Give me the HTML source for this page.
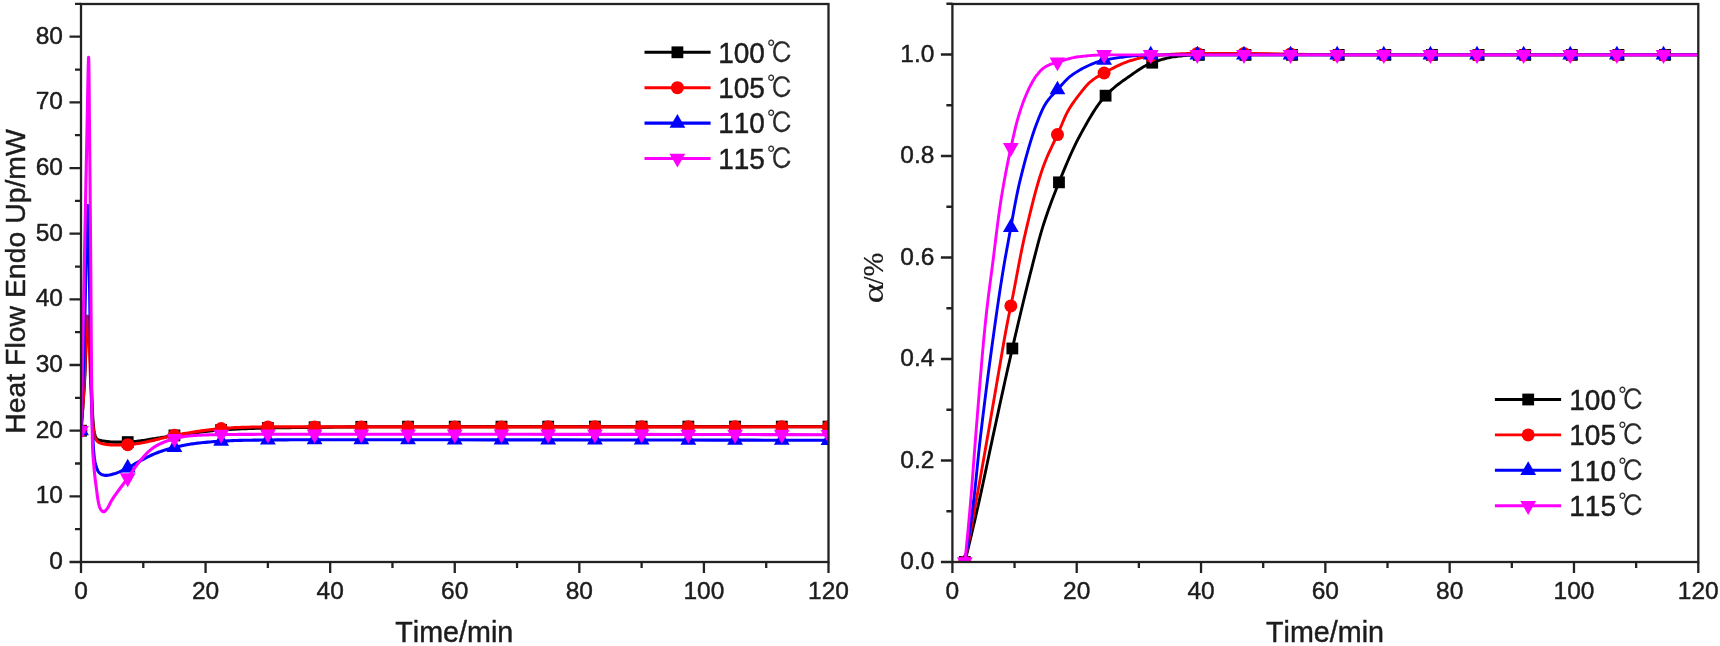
<!DOCTYPE html>
<html lang="en">
<head>
<meta charset="utf-8">
<title>Heat flow and conversion curves</title>
<style>
html,body{margin:0;padding:0;background:#fff;}
body{width:1720px;height:646px;overflow:hidden;}
svg{display:block;filter:blur(0.35px);}
text{white-space:pre;font-kerning:none;stroke:#1c1c1c;stroke-width:0.45px;stroke-linejoin:round;}
</style>
</head>
<body>
<svg width="1720" height="646" viewBox="0 0 1720 646">
<rect width="1720" height="646" fill="#ffffff"/>
<clipPath id="cl"><rect x="81.0" y="4.0" width="747.5" height="558.0"/></clipPath>
<g clip-path="url(#cl)">
<path d="M81 430.7L81.41 425.63L81.82 420.57L82.21 415.5L82.59 410.43L82.96 405.36L83.32 400.29L83.66 395.22L83.99 390.15L84.3 385.07L84.6 380L84.86 375L85.08 370L85.28 364.99L85.46 359.98L85.65 354.97L85.84 349.96L86.06 344.96L86.32 339.97L86.63 334.98L87 330L87.07 329.24L87.15 328.37L87.25 327.46L87.35 326.52L87.47 325.62L87.58 324.79L87.7 324.07L87.81 323.5L87.91 323.13L88 323L88.14 323.23L88.28 323.86L88.42 324.83L88.55 326.07L88.68 327.5L88.8 329.05L88.92 330.64L89.02 332.21L89.12 333.69L89.2 335L89.53 340.49L89.81 345.98L90.06 351.48L90.28 356.98L90.47 362.48L90.66 367.99L90.85 373.49L91.05 379L91.26 384.5L91.5 390L91.66 393.5L91.8 397.01L91.94 400.52L92.08 404.02L92.23 407.53L92.39 411.04L92.57 414.54L92.78 418.03L93.02 421.52L93.3 425L93.4 426.06L93.5 427.14L93.62 428.22L93.76 429.3L93.91 430.38L94.08 431.45L94.27 432.5L94.49 433.53L94.73 434.53L95 435.5L95.14 435.92L95.32 436.36L95.52 436.81L95.76 437.25L96.01 437.68L96.29 438.09L96.58 438.47L96.88 438.8L97.19 439.08L97.5 439.3L98.11 439.61L98.79 439.89L99.55 440.14L100.35 440.37L101.19 440.57L102.06 440.75L102.94 440.91L103.81 441.05L104.67 441.18L105.5 441.3L106.34 441.42L107.19 441.53L108.03 441.64L108.88 441.75L109.73 441.84L110.59 441.93L111.44 442L112.29 442.05L113.15 442.09L114 442.1L115.37 442.1L116.74 442.1L118.11 442.1L119.48 442.1L120.85 442.1L122.22 442.1L123.59 442.1L124.96 442.1L126.33 442.1L127.7 442.1L128.89 442.08L130.08 442.03L131.28 441.95L132.47 441.84L133.66 441.72L134.85 441.58L136.04 441.44L137.23 441.29L138.41 441.14L139.6 441L140.96 440.83L142.33 440.65L143.69 440.45L145.05 440.24L146.41 440.02L147.77 439.8L149.12 439.57L150.48 439.34L151.84 439.12L153.2 438.9L154.39 438.71L155.58 438.52L156.77 438.34L157.96 438.15L159.15 437.96L160.34 437.77L161.53 437.58L162.72 437.38L163.91 437.19L165.1 437L165.95 436.86L166.8 436.72L167.65 436.57L168.5 436.43L169.35 436.29L170.2 436.14L171.05 436L171.9 435.86L172.75 435.73L173.6 435.6L174.79 435.43L175.98 435.26L177.17 435.09L178.36 434.93L179.55 434.77L180.74 434.62L181.93 434.46L183.12 434.31L184.31 434.15L185.5 434L186.86 433.82L188.22 433.65L189.58 433.47L190.94 433.3L192.3 433.13L193.66 432.96L195.02 432.79L196.38 432.62L197.74 432.46L199.1 432.3L201.28 432.05L203.46 431.79L205.63 431.54L207.81 431.28L209.99 431.04L212.17 430.8L214.35 430.58L216.53 430.36L218.72 430.17L220.9 430L223.21 429.83L225.51 429.68L227.82 429.53L230.13 429.38L232.44 429.25L234.75 429.12L237.07 429.01L239.38 428.9L241.69 428.79L244 428.7L246.35 428.61L248.7 428.53L251.05 428.45L253.4 428.37L255.75 428.3L258.1 428.23L260.45 428.17L262.8 428.11L265.15 428.05L267.5 428L269.75 427.95L272 427.9L274.25 427.86L276.5 427.82L278.75 427.78L281 427.74L283.25 427.7L285.5 427.67L287.75 427.63L290 427.6L292.4 427.57L294.8 427.53L297.2 427.5L299.6 427.47L302 427.44L304.4 427.41L306.8 427.38L309.2 427.36L311.6 427.33L314 427.3L316.6 427.27L319.2 427.24L321.8 427.2L324.4 427.17L327 427.14L329.6 427.11L332.2 427.08L334.8 427.05L337.4 427.03L340 427L344 426.96L348 426.92L352 426.88L356 426.84L360 426.81L364 426.77L368 426.74L372 426.72L376 426.71L380 426.7L424.85 426.68L469.7 426.66L514.55 426.64L559.4 426.63L604.25 426.62L649.1 426.61L693.95 426.61L738.8 426.6L783.65 426.6L828.5 426.6" fill="none" stroke="#000000" stroke-width="3.1" stroke-linejoin="round" stroke-linecap="butt"/>
<rect x="75.1" y="424.8" width="11.8" height="11.8" fill="#000000"/>
<rect x="121.82" y="436.2" width="11.8" height="11.8" fill="#000000"/>
<rect x="168.54" y="429.53" width="11.8" height="11.8" fill="#000000"/>
<rect x="215.26" y="424.1" width="11.8" height="11.8" fill="#000000"/>
<rect x="261.98" y="422.1" width="11.8" height="11.8" fill="#000000"/>
<rect x="308.69" y="421.4" width="11.8" height="11.8" fill="#000000"/>
<rect x="355.41" y="420.91" width="11.8" height="11.8" fill="#000000"/>
<rect x="402.13" y="420.78" width="11.8" height="11.8" fill="#000000"/>
<rect x="448.85" y="420.76" width="11.8" height="11.8" fill="#000000"/>
<rect x="495.57" y="420.74" width="11.8" height="11.8" fill="#000000"/>
<rect x="542.29" y="420.73" width="11.8" height="11.8" fill="#000000"/>
<rect x="589.01" y="420.72" width="11.8" height="11.8" fill="#000000"/>
<rect x="635.73" y="420.71" width="11.8" height="11.8" fill="#000000"/>
<rect x="682.44" y="420.71" width="11.8" height="11.8" fill="#000000"/>
<rect x="729.16" y="420.7" width="11.8" height="11.8" fill="#000000"/>
<rect x="775.88" y="420.7" width="11.8" height="11.8" fill="#000000"/>
<rect x="822.6" y="420.7" width="11.8" height="11.8" fill="#000000"/>
<path d="M81 430.7L81.4 425.63L81.79 420.57L82.17 415.5L82.54 410.43L82.89 405.36L83.23 400.29L83.55 395.22L83.85 390.15L84.13 385.07L84.4 380L84.65 374.5L84.87 369L85.06 363.5L85.24 357.99L85.41 352.49L85.59 346.98L85.78 341.48L86.01 335.98L86.28 330.49L86.6 325L86.66 324.02L86.74 322.91L86.82 321.73L86.92 320.53L87.01 319.37L87.11 318.3L87.21 317.38L87.31 316.65L87.41 316.17L87.5 316L87.62 316.23L87.74 316.86L87.86 317.83L87.98 319.07L88.1 320.5L88.22 322.05L88.33 323.64L88.43 325.21L88.52 326.69L88.6 328L88.94 334.19L89.23 340.38L89.48 346.58L89.7 352.78L89.9 358.99L90.1 365.19L90.29 371.4L90.5 377.6L90.73 383.8L91 390L91.16 393.6L91.32 397.21L91.47 400.82L91.63 404.43L91.79 408.04L91.98 411.64L92.19 415.24L92.42 418.84L92.69 422.42L93 426L93.11 427.17L93.24 428.35L93.38 429.55L93.54 430.74L93.72 431.93L93.92 433.1L94.15 434.25L94.4 435.38L94.68 436.46L95 437.5L95.2 438.04L95.46 438.59L95.77 439.15L96.12 439.7L96.5 440.24L96.92 440.75L97.35 441.22L97.79 441.64L98.25 442.01L98.7 442.3L99.25 442.59L99.86 442.86L100.51 443.11L101.19 443.35L101.89 443.56L102.61 443.75L103.34 443.92L104.07 444.07L104.8 444.2L105.5 444.3L106.34 444.41L107.18 444.51L108.02 444.61L108.87 444.71L109.73 444.79L110.58 444.86L111.44 444.92L112.29 444.96L113.15 444.99L114 445L115.37 445L116.74 444.99L118.11 444.97L119.48 444.94L120.85 444.91L122.23 444.88L123.6 444.84L124.97 444.8L126.33 444.75L127.7 444.7L128.89 444.64L130.09 444.54L131.28 444.43L132.47 444.28L133.66 444.12L134.86 443.95L136.04 443.77L137.23 443.58L138.42 443.39L139.6 443.2L140.97 442.98L142.33 442.73L143.7 442.48L145.06 442.2L146.42 441.92L147.78 441.62L149.14 441.32L150.49 441.02L151.85 440.71L153.2 440.4L154.39 440.12L155.59 439.83L156.78 439.53L157.96 439.22L159.15 438.9L160.34 438.59L161.53 438.28L162.71 437.98L163.91 437.68L165.1 437.4L165.95 437.21L166.79 437.02L167.64 436.83L168.49 436.65L169.34 436.47L170.19 436.29L171.04 436.11L171.9 435.94L172.75 435.77L173.6 435.6L174.79 435.37L175.98 435.14L177.16 434.91L178.35 434.68L179.54 434.46L180.73 434.25L181.92 434.03L183.12 433.82L184.31 433.61L185.5 433.4L186.86 433.17L188.22 432.93L189.57 432.7L190.93 432.47L192.29 432.24L193.65 432.02L195.01 431.81L196.37 431.6L197.74 431.39L199.1 431.2L201.27 430.9L203.45 430.6L205.63 430.3L207.8 430.01L209.98 429.73L212.16 429.47L214.35 429.22L216.53 428.99L218.71 428.78L220.9 428.6L223.2 428.43L225.51 428.26L227.82 428.1L230.13 427.95L232.44 427.8L234.75 427.67L237.06 427.56L239.38 427.46L241.69 427.37L244 427.3L246.35 427.24L248.7 427.18L251.05 427.12L253.4 427.07L255.75 427.02L258.1 426.98L260.45 426.95L262.8 426.92L265.15 426.91L267.5 426.9L272.15 426.9L276.8 426.9L281.45 426.9L286.1 426.9L290.75 426.9L295.4 426.9L300.05 426.9L304.7 426.9L309.35 426.9L314 426.9L365.45 426.9L416.9 426.9L468.35 426.89L519.8 426.88L571.25 426.87L622.7 426.86L674.15 426.85L725.6 426.83L777.05 426.82L828.5 426.8" fill="none" stroke="#ff0000" stroke-width="3.1" stroke-linejoin="round" stroke-linecap="butt"/>
<circle cx="81" cy="430.7" r="6.5" fill="#ff0000"/>
<circle cx="127.72" cy="444.7" r="6.5" fill="#ff0000"/>
<circle cx="174.44" cy="435.37" r="6.5" fill="#ff0000"/>
<circle cx="221.16" cy="428.6" r="6.5" fill="#ff0000"/>
<circle cx="267.88" cy="426.9" r="6.5" fill="#ff0000"/>
<circle cx="314.59" cy="426.9" r="6.5" fill="#ff0000"/>
<circle cx="361.31" cy="426.9" r="6.5" fill="#ff0000"/>
<circle cx="408.03" cy="426.9" r="6.5" fill="#ff0000"/>
<circle cx="454.75" cy="426.89" r="6.5" fill="#ff0000"/>
<circle cx="501.47" cy="426.88" r="6.5" fill="#ff0000"/>
<circle cx="548.19" cy="426.87" r="6.5" fill="#ff0000"/>
<circle cx="594.91" cy="426.87" r="6.5" fill="#ff0000"/>
<circle cx="641.62" cy="426.86" r="6.5" fill="#ff0000"/>
<circle cx="688.34" cy="426.85" r="6.5" fill="#ff0000"/>
<circle cx="735.06" cy="426.83" r="6.5" fill="#ff0000"/>
<circle cx="781.78" cy="426.82" r="6.5" fill="#ff0000"/>
<circle cx="828.5" cy="426.8" r="6.5" fill="#ff0000"/>
<path d="M81 430.7L81.34 422.63L81.68 414.56L82.01 406.49L82.33 398.42L82.64 390.35L82.94 382.28L83.22 374.21L83.5 366.14L83.76 358.07L84 350L84.28 340L84.54 330L84.78 320L85 310L85.22 300L85.44 290L85.66 280L85.89 270L86.13 260L86.4 250L86.53 245.16L86.66 239.7L86.81 233.88L86.95 227.98L87.1 222.25L87.25 216.97L87.39 212.39L87.54 208.8L87.67 206.44L87.8 205.6L87.92 206.44L88.04 208.8L88.16 212.39L88.28 216.97L88.39 222.25L88.5 227.98L88.61 233.88L88.71 239.7L88.81 245.16L88.9 250L89.1 260L89.28 270L89.45 280L89.61 290L89.76 300L89.92 310L90.07 320L90.24 330L90.41 340L90.6 350L90.74 357L90.87 364L91 371L91.14 378L91.28 385.01L91.44 392.01L91.6 399.01L91.78 406.01L91.98 413L92.2 420L92.32 423.51L92.43 427.02L92.56 430.54L92.69 434.05L92.84 437.57L93.02 441.08L93.21 444.58L93.44 448.07L93.7 451.54L94 455L94.17 456.59L94.38 458.22L94.63 459.86L94.93 461.51L95.27 463.14L95.66 464.74L96.1 466.3L96.58 467.78L97.12 469.19L97.7 470.5L97.96 470.98L98.28 471.47L98.65 471.96L99.06 472.45L99.51 472.92L99.98 473.35L100.48 473.75L100.99 474.1L101.5 474.39L102 474.6L102.35 474.72L102.73 474.84L103.12 474.95L103.52 475.06L103.93 475.15L104.35 475.23L104.76 475.3L105.18 475.36L105.59 475.39L106 475.4L106.8 475.37L107.61 475.3L108.41 475.18L109.22 475.04L110.03 474.86L110.83 474.66L111.63 474.45L112.43 474.23L113.22 474.01L114 473.8L115.41 473.39L116.81 472.91L118.21 472.38L119.59 471.81L120.96 471.19L122.32 470.56L123.67 469.9L125.02 469.23L126.36 468.56L127.7 467.9L128.91 467.28L130.11 466.64L131.31 465.98L132.49 465.29L133.67 464.6L134.85 463.9L136.03 463.21L137.21 462.52L138.4 461.85L139.6 461.2L140.94 460.49L142.29 459.77L143.63 459.06L144.98 458.35L146.34 457.65L147.69 456.96L149.06 456.29L150.43 455.64L151.81 455.01L153.2 454.4L154.37 453.91L155.54 453.43L156.72 452.97L157.9 452.51L159.1 452.06L160.29 451.63L161.49 451.2L162.69 450.79L163.89 450.39L165.1 450L165.94 449.74L166.78 449.48L167.63 449.22L168.48 448.97L169.33 448.73L170.18 448.49L171.03 448.26L171.89 448.04L172.74 447.82L173.6 447.6L174.78 447.31L175.97 447.02L177.15 446.74L178.34 446.47L179.53 446.2L180.72 445.94L181.91 445.69L183.11 445.45L184.3 445.22L185.5 445L186.85 444.76L188.21 444.53L189.56 444.31L190.92 444.09L192.28 443.89L193.64 443.69L195.01 443.5L196.37 443.32L197.74 443.15L199.1 443L201.27 442.77L203.45 442.55L205.63 442.34L207.8 442.14L209.99 441.95L212.17 441.78L214.35 441.61L216.53 441.46L218.72 441.32L220.9 441.2L223.21 441.08L225.52 440.96L227.82 440.85L230.13 440.75L232.45 440.65L234.76 440.56L237.07 440.48L239.38 440.41L241.69 440.35L244 440.3L246.35 440.26L248.7 440.22L251.05 440.18L253.4 440.15L255.75 440.12L258.1 440.09L260.45 440.07L262.8 440.04L265.15 440.02L267.5 440L272.15 439.96L276.8 439.92L281.45 439.87L286.1 439.83L290.75 439.8L295.4 439.77L300.05 439.74L304.7 439.72L309.35 439.7L314 439.7L327.6 439.7L341.2 439.71L354.8 439.71L368.4 439.72L382 439.73L395.6 439.75L409.2 439.76L422.8 439.77L436.4 439.79L450 439.8L487.85 439.84L525.7 439.87L563.55 439.92L601.4 439.96L639.25 440.01L677.1 440.06L714.95 440.12L752.8 440.17L790.65 440.24L828.5 440.3" fill="none" stroke="#0000ff" stroke-width="3.1" stroke-linejoin="round" stroke-linecap="butt"/>
<path d="M73.1 435.3L88.9 435.3L81 421.6Z" fill="#0000ff"/>
<path d="M119.82 472.5L135.62 472.5L127.72 458.8Z" fill="#0000ff"/>
<path d="M166.54 451.91L182.34 451.91L174.44 438.21Z" fill="#0000ff"/>
<path d="M213.26 445.8L229.06 445.8L221.16 432.1Z" fill="#0000ff"/>
<path d="M259.98 444.6L275.77 444.6L267.88 430.9Z" fill="#0000ff"/>
<path d="M306.69 444.3L322.49 444.3L314.59 430.6Z" fill="#0000ff"/>
<path d="M353.41 444.31L369.21 444.31L361.31 430.61Z" fill="#0000ff"/>
<path d="M400.13 444.36L415.93 444.36L408.03 430.66Z" fill="#0000ff"/>
<path d="M446.85 444.4L462.65 444.4L454.75 430.7Z" fill="#0000ff"/>
<path d="M493.57 444.44L509.37 444.44L501.47 430.74Z" fill="#0000ff"/>
<path d="M540.29 444.52L556.09 444.52L548.19 430.82Z" fill="#0000ff"/>
<path d="M587.01 444.56L602.81 444.56L594.91 430.86Z" fill="#0000ff"/>
<path d="M633.73 444.61L649.52 444.61L641.62 430.91Z" fill="#0000ff"/>
<path d="M680.44 444.66L696.24 444.66L688.34 430.96Z" fill="#0000ff"/>
<path d="M727.16 444.77L742.96 444.77L735.06 431.07Z" fill="#0000ff"/>
<path d="M773.88 444.84L789.68 444.84L781.78 431.14Z" fill="#0000ff"/>
<path d="M820.6 444.9L836.4 444.9L828.5 431.2Z" fill="#0000ff"/>
<path d="M81 430.7L81.13 424.63L81.27 418.56L81.4 412.49L81.53 406.42L81.66 400.35L81.79 394.28L81.92 388.21L82.05 382.14L82.18 376.07L82.3 370L82.52 359L82.74 348L82.95 337L83.15 326L83.36 315L83.57 304L83.77 293L83.98 282L84.19 271L84.4 260L84.65 247L84.91 234L85.16 221L85.42 208L85.68 195L85.93 182L86.2 169L86.46 156L86.73 143L87 130L87.16 122.08L87.33 113.13L87.5 103.61L87.67 93.94L87.85 84.56L88.02 75.91L88.18 68.42L88.34 62.53L88.48 58.68L88.6 57.3L88.71 58.68L88.82 62.53L88.91 68.42L89.01 75.91L89.1 84.56L89.18 93.94L89.26 103.61L89.34 113.13L89.42 122.08L89.5 130L89.64 143L89.77 156L89.9 169L90.02 182L90.14 195L90.26 208L90.37 221L90.48 234L90.59 247L90.7 260L90.79 271L90.86 282L90.94 293L91.01 304L91.08 315L91.15 326L91.23 337L91.31 348L91.4 359L91.5 370L91.57 377.5L91.64 385L91.7 392.51L91.77 400.01L91.85 407.51L91.95 415.02L92.05 422.52L92.18 430.01L92.33 437.51L92.5 445L92.59 447.7L92.71 450.41L92.86 453.11L93.03 455.81L93.23 458.51L93.44 461.21L93.67 463.91L93.91 466.61L94.15 469.31L94.4 472L94.56 473.64L94.73 475.29L94.92 476.93L95.11 478.57L95.32 480.21L95.53 481.85L95.75 483.49L95.97 485.12L96.18 486.76L96.4 488.4L96.56 489.62L96.71 490.85L96.86 492.07L97.01 493.3L97.16 494.52L97.32 495.75L97.5 496.97L97.68 498.18L97.88 499.39L98.1 500.6L98.26 501.44L98.43 502.3L98.61 503.17L98.8 504.04L99.01 504.9L99.23 505.75L99.48 506.57L99.76 507.36L100.06 508.1L100.4 508.8L100.61 509.16L100.86 509.55L101.15 509.95L101.48 510.35L101.82 510.73L102.18 511.07L102.55 511.37L102.91 511.6L103.26 511.75L103.6 511.8L103.96 511.74L104.34 511.58L104.72 511.34L105.1 511.02L105.49 510.65L105.86 510.24L106.23 509.82L106.57 509.39L106.9 508.98L107.2 508.6L107.68 507.95L108.12 507.25L108.53 506.53L108.91 505.78L109.28 505.01L109.65 504.23L110.02 503.46L110.39 502.69L110.78 501.93L111.2 501.2L112.69 498.8L114.25 496.44L115.87 494.11L117.52 491.8L119.21 489.51L120.91 487.24L122.63 484.96L124.34 482.68L126.03 480.4L127.7 478.1L128.88 476.43L130.04 474.74L131.2 473.05L132.35 471.35L133.51 469.66L134.67 467.98L135.86 466.31L137.07 464.67L138.32 463.07L139.6 461.5L140.84 460.03L142.1 458.54L143.39 457.06L144.69 455.59L146.03 454.15L147.39 452.74L148.79 451.39L150.22 450.11L151.69 448.91L153.2 447.8L154.28 447.08L155.4 446.38L156.55 445.71L157.73 445.06L158.93 444.43L160.15 443.84L161.38 443.26L162.62 442.71L163.86 442.19L165.1 441.7L165.93 441.39L166.76 441.08L167.6 440.79L168.45 440.51L169.3 440.24L170.16 439.97L171.02 439.72L171.88 439.47L172.74 439.23L173.6 439L174.78 438.68L175.96 438.36L177.14 438.05L178.33 437.74L179.52 437.44L180.71 437.16L181.9 436.9L183.1 436.67L184.3 436.47L185.5 436.3L186.85 436.14L188.2 436L189.56 435.86L190.92 435.73L192.28 435.62L193.64 435.51L195.01 435.42L196.37 435.34L197.74 435.26L199.1 435.2L201.28 435.11L203.46 435.03L205.63 434.95L207.81 434.88L210 434.81L212.18 434.76L214.36 434.71L216.54 434.66L218.72 434.63L220.9 434.6L225.56 434.55L230.22 434.5L234.88 434.46L239.54 434.42L244.2 434.38L248.86 434.36L253.52 434.33L258.18 434.31L262.84 434.3L267.5 434.3L285.75 434.3L304 434.3L322.25 434.3L340.5 434.3L358.75 434.3L377 434.3L395.25 434.3L413.5 434.3L431.75 434.3L450 434.3L487.85 434.31L525.7 434.32L563.55 434.34L601.4 434.38L639.25 434.42L677.1 434.46L714.95 434.52L752.8 434.57L790.65 434.63L828.5 434.7" fill="none" stroke="#ff00ff" stroke-width="3.1" stroke-linejoin="round" stroke-linecap="butt"/>
<path d="M73.1 425.9L88.9 425.9L81 439.8Z" fill="#ff00ff"/>
<path d="M119.82 473.3L135.62 473.3L127.72 487.2Z" fill="#ff00ff"/>
<path d="M166.54 433.88L182.34 433.88L174.44 447.78Z" fill="#ff00ff"/>
<path d="M213.26 429.8L229.06 429.8L221.16 443.7Z" fill="#ff00ff"/>
<path d="M259.98 429.5L275.77 429.5L267.88 443.4Z" fill="#ff00ff"/>
<path d="M306.69 429.5L322.49 429.5L314.59 443.4Z" fill="#ff00ff"/>
<path d="M353.41 429.5L369.21 429.5L361.31 443.4Z" fill="#ff00ff"/>
<path d="M400.13 429.5L415.93 429.5L408.03 443.4Z" fill="#ff00ff"/>
<path d="M446.85 429.5L462.65 429.5L454.75 443.4Z" fill="#ff00ff"/>
<path d="M493.57 429.51L509.37 429.51L501.47 443.41Z" fill="#ff00ff"/>
<path d="M540.29 429.54L556.09 429.54L548.19 443.44Z" fill="#ff00ff"/>
<path d="M587.01 429.58L602.81 429.58L594.91 443.48Z" fill="#ff00ff"/>
<path d="M633.73 429.62L649.52 429.62L641.62 443.52Z" fill="#ff00ff"/>
<path d="M680.44 429.66L696.24 429.66L688.34 443.56Z" fill="#ff00ff"/>
<path d="M727.16 429.77L742.96 429.77L735.06 443.67Z" fill="#ff00ff"/>
<path d="M773.88 429.83L789.68 429.83L781.78 443.73Z" fill="#ff00ff"/>
<path d="M820.6 429.9L836.4 429.9L828.5 443.8Z" fill="#ff00ff"/>
</g>
<g stroke="#222" stroke-width="2.3" fill="none" stroke-linecap="butt">
<rect x="81.0" y="4.0" width="747.5" height="558"/>
<path d="M81 562.0v11M205.58 562.0v11M330.17 562.0v11M454.75 562.0v11M579.33 562.0v11M703.92 562.0v11M828.5 562.0v11M143.29 562.0v6M267.88 562.0v6M392.46 562.0v6M517.04 562.0v6M641.62 562.0v6M766.21 562.0v6M81.0 562h-11.5M81.0 496.34h-11.5M81.0 430.68h-11.5M81.0 365.02h-11.5M81.0 299.36h-11.5M81.0 233.7h-11.5M81.0 168.04h-11.5M81.0 102.38h-11.5M81.0 36.72h-11.5M81.0 529.17h-6M81.0 463.51h-6M81.0 397.85h-6M81.0 332.19h-6M81.0 266.53h-6M81.0 200.87h-6M81.0 135.21h-6M81.0 69.55h-6M81.0 3.89h-6"/>
</g>
<g font-family='"Liberation Sans", Arial, Helvetica, sans-serif' font-size="24.5" fill="#1c1c1c">
<text x="81" y="598.8" text-anchor="middle">0</text>
<text x="205.58" y="598.8" text-anchor="middle">20</text>
<text x="330.17" y="598.8" text-anchor="middle">40</text>
<text x="454.75" y="598.8" text-anchor="middle">60</text>
<text x="579.33" y="598.8" text-anchor="middle">80</text>
<text x="703.92" y="598.8" text-anchor="middle">100</text>
<text x="828.5" y="598.8" text-anchor="middle">120</text>
<text x="63" y="569.1" text-anchor="end">0</text>
<text x="63" y="503.44" text-anchor="end">10</text>
<text x="63" y="437.78" text-anchor="end">20</text>
<text x="63" y="372.12" text-anchor="end">30</text>
<text x="63" y="306.46" text-anchor="end">40</text>
<text x="63" y="240.8" text-anchor="end">50</text>
<text x="63" y="175.14" text-anchor="end">60</text>
<text x="63" y="109.48" text-anchor="end">70</text>
<text x="63" y="43.82" text-anchor="end">80</text>
</g>
<text x="454.3" y="641.9" text-anchor="middle" font-family='"Liberation Sans", Arial, Helvetica, sans-serif' font-size="28.7" fill="#1c1c1c">Time/min</text>
<text transform="translate(24.6 281.5) rotate(-90)" text-anchor="middle" font-family='"Liberation Sans", Arial, Helvetica, sans-serif' font-size="28.4" fill="#1c1c1c">Heat Flow Endo Up/mW</text>
<path d="M644.5 52.3H710.6" stroke="#000000" stroke-width="3.1"/>
<rect x="671.5" y="46.4" width="11.8" height="11.8" fill="#000000"/>
<text transform="translate(718.2 62.6) scale(1 1.07)" font-family='"Liberation Sans", Arial, Helvetica, sans-serif' font-size="28" fill="#1c1c1c">100<tspan font-family='"Liberation Sans", "IPAGothic", sans-serif' font-size="26.5" dx="1.9" fill="#2a2a2a" style="stroke-width:0.1px">℃</tspan></text>
<path d="M644.5 87.7H710.6" stroke="#ff0000" stroke-width="3.1"/>
<circle cx="677.4" cy="87.7" r="6.5" fill="#ff0000"/>
<text transform="translate(718.2 98) scale(1 1.07)" font-family='"Liberation Sans", Arial, Helvetica, sans-serif' font-size="28" fill="#1c1c1c">105<tspan font-family='"Liberation Sans", "IPAGothic", sans-serif' font-size="26.5" dx="1.9" fill="#2a2a2a" style="stroke-width:0.1px">℃</tspan></text>
<path d="M644.5 123.1H710.6" stroke="#0000ff" stroke-width="3.1"/>
<path d="M669.5 127.7L685.3 127.7L677.4 114Z" fill="#0000ff"/>
<text transform="translate(718.2 133.4) scale(1 1.07)" font-family='"Liberation Sans", Arial, Helvetica, sans-serif' font-size="28" fill="#1c1c1c">110<tspan font-family='"Liberation Sans", "IPAGothic", sans-serif' font-size="26.5" dx="1.9" fill="#2a2a2a" style="stroke-width:0.1px">℃</tspan></text>
<path d="M644.5 158.5H710.6" stroke="#ff00ff" stroke-width="3.1"/>
<path d="M669.5 153.7L685.3 153.7L677.4 167.6Z" fill="#ff00ff"/>
<text transform="translate(718.2 168.8) scale(1 1.07)" font-family='"Liberation Sans", Arial, Helvetica, sans-serif' font-size="28" fill="#1c1c1c">115<tspan font-family='"Liberation Sans", "IPAGothic", sans-serif' font-size="26.5" dx="1.9" fill="#2a2a2a" style="stroke-width:0.1px">℃</tspan></text>
<clipPath id="cr"><rect x="952.4" y="4.0" width="745.9" height="558.0"/></clipPath>
<g clip-path="url(#cr)">
<path d="M964.83 562L966.39 555.71L967.94 549.35L969.49 542.9L971.05 536.37L972.6 529.77L974.16 523.09L975.71 516.34L977.26 509.52L978.82 502.63L980.37 495.65L981.93 488.51L983.48 481.23L985.03 473.86L986.59 466.45L988.14 459.03L989.69 451.64L991.25 444.33L992.8 437.12L994.36 429.93L995.91 422.75L997.46 415.58L999.02 408.42L1000.57 401.28L1002.13 394.17L1003.68 387.09L1005.23 380.05L1006.79 373.05L1008.34 366.11L1009.9 359.22L1011.45 352.4L1013 345.65L1014.56 338.93L1016.11 332.25L1017.67 325.6L1019.22 319.01L1020.77 312.46L1022.33 305.97L1023.88 299.53L1025.44 293.16L1026.99 286.86L1028.54 280.63L1030.1 274.47L1031.65 268.34L1033.21 262.18L1034.76 256.06L1036.31 250.03L1037.87 244.12L1039.42 238.4L1040.98 232.91L1042.53 227.7L1044.08 222.78L1045.64 218.04L1047.19 213.45L1048.75 209.02L1050.3 204.71L1051.85 200.51L1053.41 196.42L1054.96 192.41L1056.52 188.47L1058.07 184.58L1059.62 180.72L1061.18 176.9L1062.73 173.11L1064.28 169.36L1065.84 165.66L1067.39 162.02L1068.95 158.44L1070.5 154.93L1072.05 151.5L1073.61 148.14L1075.16 144.88L1076.72 141.72L1078.27 138.66L1079.82 135.71L1081.38 132.85L1082.93 130.02L1084.49 127.21L1086.04 124.44L1087.59 121.72L1089.15 119.04L1090.7 116.42L1092.26 113.87L1093.81 111.39L1095.36 108.99L1096.92 106.68L1098.47 104.46L1100.03 102.34L1101.58 100.32L1103.13 98.43L1104.69 96.65L1106.24 94.99L1107.8 93.41L1109.35 91.9L1110.9 90.45L1112.46 89.06L1114.01 87.73L1115.57 86.44L1117.12 85.2L1118.67 83.99L1120.23 82.82L1121.78 81.67L1123.34 80.55L1124.89 79.45L1126.44 78.36L1128 77.28L1129.55 76.2L1131.11 75.11L1132.66 74.02L1134.21 72.93L1135.77 71.85L1137.32 70.78L1138.88 69.73L1140.43 68.72L1141.98 67.73L1143.54 66.8L1145.09 65.91L1146.64 65.08L1148.2 64.32L1149.75 63.63L1151.31 63.01L1152.86 62.45L1154.41 61.9L1155.97 61.37L1157.52 60.85L1159.08 60.36L1160.63 59.88L1162.18 59.42L1163.74 58.99L1165.29 58.58L1166.85 58.19L1168.4 57.83L1169.95 57.5L1171.51 57.2L1173.06 56.93L1174.62 56.7L1176.17 56.49L1177.72 56.32L1179.28 56.15L1180.83 55.98L1182.39 55.82L1183.94 55.67L1185.49 55.53L1187.05 55.39L1188.6 55.27L1190.16 55.17L1191.71 55.07L1193.26 55L1194.82 54.95L1196.37 54.91L1197.93 54.9L1199.48 54.9L1201.03 54.9L1202.59 54.9L1204.14 54.9L1205.7 54.9L1207.25 54.9L1208.8 54.9L1210.36 54.9L1211.91 54.9L1213.46 54.9L1215.02 54.9L1216.57 54.9L1218.13 54.9L1219.68 54.9L1221.23 54.9L1222.79 54.9L1224.34 54.9L1225.9 54.9L1227.45 54.9L1229 54.9L1230.56 54.9L1232.11 54.9L1233.67 54.9L1235.22 54.9L1236.77 54.9L1238.33 54.9L1239.88 54.9L1241.44 54.9L1242.99 54.9L1244.54 54.9L1246.1 54.9L1247.65 54.9L1249.21 54.9L1250.76 54.9L1337.78 54.9L1698.3 54.9" fill="none" stroke="#000000" stroke-width="2.9" stroke-linejoin="round" stroke-linecap="butt"/>
<rect x="958.93" y="556.1" width="11.8" height="11.8" fill="#000000"/>
<rect x="1006.45" y="342.58" width="11.8" height="11.8" fill="#000000"/>
<rect x="1053.07" y="176.44" width="11.8" height="11.8" fill="#000000"/>
<rect x="1099.69" y="89.78" width="11.8" height="11.8" fill="#000000"/>
<rect x="1146.31" y="56.79" width="11.8" height="11.8" fill="#000000"/>
<rect x="1192.93" y="49" width="11.8" height="11.8" fill="#000000"/>
<rect x="1239.54" y="49" width="11.8" height="11.8" fill="#000000"/>
<rect x="1286.16" y="49" width="11.8" height="11.8" fill="#000000"/>
<rect x="1332.78" y="49" width="11.8" height="11.8" fill="#000000"/>
<rect x="1379.4" y="49" width="11.8" height="11.8" fill="#000000"/>
<rect x="1426.02" y="49" width="11.8" height="11.8" fill="#000000"/>
<rect x="1472.64" y="49" width="11.8" height="11.8" fill="#000000"/>
<rect x="1519.26" y="49" width="11.8" height="11.8" fill="#000000"/>
<rect x="1565.88" y="49" width="11.8" height="11.8" fill="#000000"/>
<rect x="1612.49" y="49" width="11.8" height="11.8" fill="#000000"/>
<rect x="1659.11" y="49" width="11.8" height="11.8" fill="#000000"/>
<path d="M964.83 562L966.39 553.82L967.94 545.58L969.49 537.28L971.05 528.93L972.6 520.53L974.16 512.07L975.71 503.55L977.26 494.98L978.82 486.34L980.37 477.63L981.93 468.87L983.48 460.06L985.03 451.21L986.59 442.34L988.14 433.42L989.69 424.42L991.25 415.37L992.8 406.29L994.36 397.21L995.91 388.17L997.46 379.2L999.02 370.23L1000.57 361.17L1002.13 352.09L1003.68 343.11L1005.23 334.34L1006.79 325.87L1008.34 317.82L1009.9 310.4L1011.45 303.02L1013 295.23L1014.56 287.16L1016.11 278.94L1017.67 270.68L1019.22 262.5L1020.77 254.53L1022.33 246.87L1023.88 239.65L1025.44 232.86L1026.99 226.18L1028.54 219.59L1030.1 213.12L1031.65 206.81L1033.21 200.66L1034.76 194.71L1036.31 188.98L1037.87 183.49L1039.42 178.26L1040.98 173.33L1042.53 168.71L1044.08 164.42L1045.64 160.44L1047.19 156.71L1048.75 153.17L1050.3 149.79L1051.85 146.5L1053.41 143.25L1054.96 139.99L1056.52 136.68L1058.07 133.25L1059.62 129.65L1061.18 125.94L1062.73 122.22L1064.28 118.6L1065.84 115.18L1067.39 112.07L1068.95 109.32L1070.5 106.78L1072.05 104.39L1073.61 102.13L1075.16 99.98L1076.72 97.91L1078.27 95.89L1079.82 93.89L1081.38 91.89L1082.93 89.91L1084.49 87.98L1086.04 86.14L1087.59 84.43L1089.15 82.88L1090.7 81.52L1092.26 80.29L1093.81 79.15L1095.36 78.09L1096.92 77.09L1098.47 76.14L1100.03 75.24L1101.58 74.36L1103.13 73.5L1104.69 72.65L1106.24 71.8L1107.8 70.95L1109.35 70.1L1110.9 69.27L1112.46 68.45L1114.01 67.64L1115.57 66.84L1117.12 66.07L1118.67 65.33L1120.23 64.6L1121.78 63.91L1123.34 63.25L1124.89 62.62L1126.44 62.04L1128 61.49L1129.55 60.99L1131.11 60.51L1132.66 60.03L1134.21 59.57L1135.77 59.12L1137.32 58.68L1138.88 58.27L1140.43 57.87L1141.98 57.49L1143.54 57.15L1145.09 56.83L1146.64 56.54L1148.2 56.3L1149.75 56.08L1151.31 55.91L1152.86 55.77L1154.41 55.62L1155.97 55.48L1157.52 55.35L1159.08 55.21L1160.63 55.08L1162.18 54.95L1163.74 54.83L1165.29 54.71L1166.85 54.6L1168.4 54.49L1169.95 54.38L1171.51 54.28L1173.06 54.18L1174.62 54.09L1176.17 54L1177.72 53.92L1179.28 53.84L1180.83 53.77L1182.39 53.71L1183.94 53.65L1185.49 53.59L1187.05 53.54L1188.6 53.5L1190.16 53.46L1191.71 53.43L1193.26 53.41L1194.82 53.39L1196.37 53.38L1197.93 53.38L1199.48 53.38L1201.03 53.38L1202.59 53.38L1204.14 53.38L1205.7 53.38L1207.25 53.38L1208.8 53.38L1210.36 53.38L1211.91 53.38L1213.46 53.38L1215.02 53.38L1216.57 53.38L1218.13 53.38L1219.68 53.38L1221.23 53.38L1222.79 53.38L1224.34 53.38L1225.9 53.38L1227.45 53.38L1229 53.38L1230.56 53.38L1232.11 53.38L1233.67 53.38L1235.22 53.38L1236.77 53.38L1238.33 53.38L1239.88 53.38L1241.44 53.38L1242.99 53.38L1244.54 53.38L1246.1 53.38L1247.65 53.38L1249.21 53.39L1250.76 53.39L1337.78 54.9L1698.3 54.9" fill="none" stroke="#ff0000" stroke-width="2.9" stroke-linejoin="round" stroke-linecap="butt"/>
<circle cx="964.83" cy="562" r="6.5" fill="#ff0000"/>
<circle cx="1010.85" cy="305.92" r="6.5" fill="#ff0000"/>
<circle cx="1057.47" cy="134.59" r="6.5" fill="#ff0000"/>
<circle cx="1104.09" cy="72.98" r="6.5" fill="#ff0000"/>
<circle cx="1150.71" cy="55.97" r="6.5" fill="#ff0000"/>
<circle cx="1197.33" cy="53.38" r="6.5" fill="#ff0000"/>
<circle cx="1243.94" cy="53.38" r="6.5" fill="#ff0000"/>
<circle cx="1290.56" cy="53.88" r="6.5" fill="#ff0000"/>
<circle cx="1337.18" cy="54.9" r="6.5" fill="#ff0000"/>
<circle cx="1383.8" cy="54.9" r="6.5" fill="#ff0000"/>
<circle cx="1430.42" cy="54.9" r="6.5" fill="#ff0000"/>
<circle cx="1477.04" cy="54.9" r="6.5" fill="#ff0000"/>
<circle cx="1523.66" cy="54.9" r="6.5" fill="#ff0000"/>
<circle cx="1570.28" cy="54.9" r="6.5" fill="#ff0000"/>
<circle cx="1616.89" cy="54.9" r="6.5" fill="#ff0000"/>
<circle cx="1663.51" cy="54.9" r="6.5" fill="#ff0000"/>
<path d="M964.83 562L966.39 552.96L967.94 543.05L969.49 532.37L971.05 521L972.6 509.05L974.16 496.52L975.71 482.3L977.26 466.96L978.82 451.68L980.37 437.64L981.93 424.48L983.48 411.63L985.03 399.07L986.59 386.8L988.14 374.79L989.69 363.01L991.25 351.46L992.8 340.1L994.36 328.93L995.91 317.93L997.46 307.13L999.02 296.6L1000.57 286.39L1002.13 276.52L1003.68 267.04L1005.23 258.03L1006.79 249.41L1008.34 240.99L1009.9 232.6L1011.45 224.06L1013 215.3L1014.56 206.8L1016.11 198.83L1017.67 191.16L1019.22 184.05L1020.77 177.59L1022.33 171.35L1023.88 165.29L1025.44 159.42L1026.99 153.76L1028.54 148.3L1030.1 143.07L1031.65 138.07L1033.21 133.31L1034.76 128.8L1036.31 124.56L1037.87 120.47L1039.42 116.54L1040.98 112.84L1042.53 109.42L1044.08 106.35L1045.64 103.68L1047.19 101.37L1048.75 99.3L1050.3 97.41L1051.85 95.66L1053.41 94L1054.96 92.38L1056.52 90.76L1058.07 89.08L1059.62 87.34L1061.18 85.58L1062.73 83.82L1064.28 82.1L1065.84 80.45L1067.39 78.9L1068.95 77.48L1070.5 76.21L1072.05 75.03L1073.61 73.91L1075.16 72.85L1076.72 71.85L1078.27 70.9L1079.82 69.99L1081.38 69.12L1082.93 68.29L1084.49 67.48L1086.04 66.71L1087.59 65.96L1089.15 65.25L1090.7 64.56L1092.26 63.91L1093.81 63.3L1095.36 62.73L1096.92 62.18L1098.47 61.65L1100.03 61.15L1101.58 60.69L1103.13 60.29L1104.69 59.97L1106.24 59.7L1107.8 59.43L1109.35 59.16L1110.9 58.9L1112.46 58.64L1114.01 58.39L1115.57 58.14L1117.12 57.9L1118.67 57.66L1120.23 57.43L1121.78 57.21L1123.34 57L1124.89 56.79L1126.44 56.59L1128 56.4L1129.55 56.22L1131.11 56.05L1132.66 55.89L1134.21 55.74L1135.77 55.6L1137.32 55.48L1138.88 55.36L1140.43 55.26L1141.98 55.16L1143.54 55.08L1145.09 55.02L1146.64 54.97L1148.2 54.93L1149.75 54.91L1151.31 54.9L1152.86 54.9L1154.41 54.9L1155.97 54.9L1157.52 54.9L1159.08 54.9L1160.63 54.9L1162.18 54.9L1163.74 54.9L1165.29 54.9L1166.85 54.9L1168.4 54.9L1169.95 54.9L1171.51 54.9L1173.06 54.9L1174.62 54.9L1176.17 54.9L1177.72 54.9L1179.28 54.9L1180.83 54.9L1182.39 54.9L1183.94 54.9L1185.49 54.9L1187.05 54.9L1188.6 54.9L1190.16 54.9L1191.71 54.9L1193.26 54.9L1194.82 54.9L1196.37 54.9L1197.93 54.9L1199.48 54.9L1201.03 54.9L1202.59 54.9L1204.14 54.9L1205.7 54.9L1207.25 54.9L1208.8 54.9L1210.36 54.9L1211.91 54.9L1213.46 54.9L1215.02 54.9L1216.57 54.9L1218.13 54.9L1219.68 54.9L1221.23 54.9L1222.79 54.9L1224.34 54.9L1225.9 54.9L1227.45 54.9L1229 54.9L1230.56 54.9L1232.11 54.9L1233.67 54.9L1235.22 54.9L1236.77 54.9L1238.33 54.9L1239.88 54.9L1241.44 54.9L1242.99 54.9L1244.54 54.9L1246.1 54.9L1247.65 54.9L1249.21 54.9L1250.76 54.9L1337.78 54.9L1698.3 54.9" fill="none" stroke="#0000ff" stroke-width="2.9" stroke-linejoin="round" stroke-linecap="butt"/>
<path d="M956.93 566.6L972.73 566.6L964.83 552.9Z" fill="#0000ff"/>
<path d="M1002.95 231.99L1018.75 231.99L1010.85 218.29Z" fill="#0000ff"/>
<path d="M1049.57 94.34L1065.37 94.34L1057.47 80.64Z" fill="#0000ff"/>
<path d="M1096.19 64.68L1111.99 64.68L1104.09 50.98Z" fill="#0000ff"/>
<path d="M1142.81 59.5L1158.61 59.5L1150.71 45.8Z" fill="#0000ff"/>
<path d="M1189.43 59.5L1205.23 59.5L1197.33 45.8Z" fill="#0000ff"/>
<path d="M1236.04 59.5L1251.84 59.5L1243.94 45.8Z" fill="#0000ff"/>
<path d="M1282.66 59.5L1298.46 59.5L1290.56 45.8Z" fill="#0000ff"/>
<path d="M1329.28 59.5L1345.08 59.5L1337.18 45.8Z" fill="#0000ff"/>
<path d="M1375.9 59.5L1391.7 59.5L1383.8 45.8Z" fill="#0000ff"/>
<path d="M1422.52 59.5L1438.32 59.5L1430.42 45.8Z" fill="#0000ff"/>
<path d="M1469.14 59.5L1484.94 59.5L1477.04 45.8Z" fill="#0000ff"/>
<path d="M1515.76 59.5L1531.56 59.5L1523.66 45.8Z" fill="#0000ff"/>
<path d="M1562.38 59.5L1578.18 59.5L1570.28 45.8Z" fill="#0000ff"/>
<path d="M1608.99 59.5L1624.79 59.5L1616.89 45.8Z" fill="#0000ff"/>
<path d="M1655.61 59.5L1671.41 59.5L1663.51 45.8Z" fill="#0000ff"/>
<path d="M964.83 562L966.39 547.2L967.94 531.26L969.49 514.32L971.05 496.46L972.6 476.69L974.16 455.97L975.71 436.15L977.26 416.74L978.82 397.3L980.37 378.16L981.93 359.67L983.48 342.18L985.03 326.02L986.59 311.5L988.14 298.38L989.69 286.16L991.25 274.35L992.8 262.46L994.36 250.09L995.91 237.5L997.46 225.11L999.02 213.33L1000.57 202.57L1002.13 192.89L1003.68 183.95L1005.23 175.51L1006.79 167.39L1008.34 159.66L1009.9 152.26L1011.45 145.16L1013 138.19L1014.56 131.37L1016.11 124.94L1017.67 119.14L1019.22 113.98L1020.77 109.14L1022.33 104.6L1023.88 100.37L1025.44 96.45L1026.99 92.84L1028.54 89.46L1030.1 86.24L1031.65 83.22L1033.21 80.44L1034.76 77.94L1036.31 75.77L1037.87 73.83L1039.42 72.01L1040.98 70.34L1042.53 68.86L1044.08 67.6L1045.64 66.6L1047.19 65.8L1048.75 65.09L1050.3 64.47L1051.85 63.92L1053.41 63.41L1054.96 62.93L1056.52 62.47L1058.07 62L1059.62 61.52L1061.18 61.04L1062.73 60.56L1064.28 60.09L1065.84 59.62L1067.39 59.17L1068.95 58.74L1070.5 58.33L1072.05 57.95L1073.61 57.6L1075.16 57.29L1076.72 57.02L1078.27 56.79L1079.82 56.61L1081.38 56.44L1082.93 56.27L1084.49 56.11L1086.04 55.95L1087.59 55.8L1089.15 55.66L1090.7 55.53L1092.26 55.41L1093.81 55.3L1095.36 55.2L1096.92 55.11L1098.47 55.04L1100.03 54.98L1101.58 54.94L1103.13 54.91L1104.69 54.9L1106.24 54.9L1107.8 54.9L1109.35 54.9L1110.9 54.9L1112.46 54.9L1114.01 54.9L1115.57 54.9L1117.12 54.9L1118.67 54.9L1120.23 54.9L1121.78 54.9L1123.34 54.9L1124.89 54.9L1126.44 54.9L1128 54.9L1129.55 54.9L1131.11 54.9L1132.66 54.9L1134.21 54.9L1135.77 54.9L1137.32 54.9L1138.88 54.9L1140.43 54.9L1141.98 54.9L1143.54 54.9L1145.09 54.9L1146.64 54.9L1148.2 54.9L1149.75 54.9L1151.31 54.9L1152.86 54.9L1154.41 54.9L1155.97 54.9L1157.52 54.9L1159.08 54.9L1160.63 54.9L1162.18 54.9L1163.74 54.9L1165.29 54.9L1166.85 54.9L1168.4 54.9L1169.95 54.9L1171.51 54.9L1173.06 54.9L1174.62 54.9L1176.17 54.9L1177.72 54.9L1179.28 54.9L1180.83 54.9L1182.39 54.9L1183.94 54.9L1185.49 54.9L1187.05 54.9L1188.6 54.9L1190.16 54.9L1191.71 54.9L1193.26 54.9L1194.82 54.9L1196.37 54.9L1197.93 54.9L1199.48 54.9L1201.03 54.9L1202.59 54.9L1204.14 54.9L1205.7 54.9L1207.25 54.9L1208.8 54.9L1210.36 54.9L1211.91 54.9L1213.46 54.9L1215.02 54.9L1216.57 54.9L1218.13 54.9L1219.68 54.9L1221.23 54.9L1222.79 54.9L1224.34 54.9L1225.9 54.9L1227.45 54.9L1229 54.9L1230.56 54.9L1232.11 54.9L1233.67 54.9L1235.22 54.9L1236.77 54.9L1238.33 54.9L1239.88 54.9L1241.44 54.9L1242.99 54.9L1244.54 54.9L1246.1 54.9L1247.65 54.9L1249.21 54.9L1250.76 54.9L1337.78 54.9L1698.3 54.9" fill="none" stroke="#ff00ff" stroke-width="2.9" stroke-linejoin="round" stroke-linecap="butt"/>
<path d="M956.93 557.2L972.73 557.2L964.83 571.1Z" fill="#ff00ff"/>
<path d="M1002.95 143.07L1018.75 143.07L1010.85 156.97Z" fill="#ff00ff"/>
<path d="M1049.57 57.38L1065.37 57.38L1057.47 71.28Z" fill="#ff00ff"/>
<path d="M1096.19 50.1L1111.99 50.1L1104.09 64Z" fill="#ff00ff"/>
<path d="M1142.81 50.1L1158.61 50.1L1150.71 64Z" fill="#ff00ff"/>
<path d="M1189.43 50.1L1205.23 50.1L1197.33 64Z" fill="#ff00ff"/>
<path d="M1236.04 50.1L1251.84 50.1L1243.94 64Z" fill="#ff00ff"/>
<path d="M1282.66 50.1L1298.46 50.1L1290.56 64Z" fill="#ff00ff"/>
<path d="M1329.28 50.1L1345.08 50.1L1337.18 64Z" fill="#ff00ff"/>
<path d="M1375.9 50.1L1391.7 50.1L1383.8 64Z" fill="#ff00ff"/>
<path d="M1422.52 50.1L1438.32 50.1L1430.42 64Z" fill="#ff00ff"/>
<path d="M1469.14 50.1L1484.94 50.1L1477.04 64Z" fill="#ff00ff"/>
<path d="M1515.76 50.1L1531.56 50.1L1523.66 64Z" fill="#ff00ff"/>
<path d="M1562.38 50.1L1578.18 50.1L1570.28 64Z" fill="#ff00ff"/>
<path d="M1608.99 50.1L1624.79 50.1L1616.89 64Z" fill="#ff00ff"/>
<path d="M1655.61 50.1L1671.41 50.1L1663.51 64Z" fill="#ff00ff"/>
</g>
<g stroke="#222" stroke-width="2.3" fill="none" stroke-linecap="butt">
<rect x="952.4" y="4.0" width="745.9" height="558"/>
<path d="M952.4 562.0v11M1076.72 562.0v11M1201.03 562.0v11M1325.35 562.0v11M1449.67 562.0v11M1573.98 562.0v11M1698.3 562.0v11M1014.56 562.0v6M1138.88 562.0v6M1263.19 562.0v6M1387.51 562.0v6M1511.82 562.0v6M1636.14 562.0v6M952.4 562h-11.5M952.4 460.5h-11.5M952.4 359h-11.5M952.4 257.5h-11.5M952.4 156h-11.5M952.4 54.5h-11.5M952.4 511.25h-6M952.4 409.75h-6M952.4 308.25h-6M952.4 206.75h-6M952.4 105.25h-6M952.4 3.75h-6"/>
</g>
<g font-family='"Liberation Sans", Arial, Helvetica, sans-serif' font-size="24.5" fill="#1c1c1c">
<text x="952.4" y="598.8" text-anchor="middle">0</text>
<text x="1076.72" y="598.8" text-anchor="middle">20</text>
<text x="1201.03" y="598.8" text-anchor="middle">40</text>
<text x="1325.35" y="598.8" text-anchor="middle">60</text>
<text x="1449.67" y="598.8" text-anchor="middle">80</text>
<text x="1573.98" y="598.8" text-anchor="middle">100</text>
<text x="1698.3" y="598.8" text-anchor="middle">120</text>
<text x="934.4" y="569.1" text-anchor="end">0.0</text>
<text x="934.4" y="467.6" text-anchor="end">0.2</text>
<text x="934.4" y="366.1" text-anchor="end">0.4</text>
<text x="934.4" y="264.6" text-anchor="end">0.6</text>
<text x="934.4" y="163.1" text-anchor="end">0.8</text>
<text x="934.4" y="61.6" text-anchor="end">1.0</text>
</g>
<text x="1325" y="641.9" text-anchor="middle" font-family='"Liberation Sans", Arial, Helvetica, sans-serif' font-size="28.7" fill="#1c1c1c">Time/min</text>
<g transform="translate(882.9 303.5) rotate(-90)" font-family='"Liberation Serif", "Times New Roman", serif' fill="#1c1c1c"><text style="stroke-width:0.2px"><tspan font-size="30" textLength="20.4" lengthAdjust="spacingAndGlyphs" style="stroke-width:0.1px">α</tspan><tspan x="19.1" font-size="28.6">/%</tspan></text></g>
<path d="M1494.9 399.5H1561.1" stroke="#000000" stroke-width="2.9"/>
<rect x="1522.3" y="393.6" width="11.8" height="11.8" fill="#000000"/>
<text transform="translate(1569.3 409.8) scale(1 1.07)" font-family='"Liberation Sans", Arial, Helvetica, sans-serif' font-size="28" fill="#1c1c1c">100<tspan font-family='"Liberation Sans", "IPAGothic", sans-serif' font-size="26.5" dx="1.9" fill="#2a2a2a" style="stroke-width:0.1px">℃</tspan></text>
<path d="M1494.9 434.9H1561.1" stroke="#ff0000" stroke-width="2.9"/>
<circle cx="1528.2" cy="434.9" r="6.5" fill="#ff0000"/>
<text transform="translate(1569.3 445.2) scale(1 1.07)" font-family='"Liberation Sans", Arial, Helvetica, sans-serif' font-size="28" fill="#1c1c1c">105<tspan font-family='"Liberation Sans", "IPAGothic", sans-serif' font-size="26.5" dx="1.9" fill="#2a2a2a" style="stroke-width:0.1px">℃</tspan></text>
<path d="M1494.9 470.3H1561.1" stroke="#0000ff" stroke-width="2.9"/>
<path d="M1520.3 474.9L1536.1 474.9L1528.2 461.2Z" fill="#0000ff"/>
<text transform="translate(1569.3 480.6) scale(1 1.07)" font-family='"Liberation Sans", Arial, Helvetica, sans-serif' font-size="28" fill="#1c1c1c">110<tspan font-family='"Liberation Sans", "IPAGothic", sans-serif' font-size="26.5" dx="1.9" fill="#2a2a2a" style="stroke-width:0.1px">℃</tspan></text>
<path d="M1494.9 505.8H1561.1" stroke="#ff00ff" stroke-width="2.9"/>
<path d="M1520.3 501L1536.1 501L1528.2 514.9Z" fill="#ff00ff"/>
<text transform="translate(1569.3 516.1) scale(1 1.07)" font-family='"Liberation Sans", Arial, Helvetica, sans-serif' font-size="28" fill="#1c1c1c">115<tspan font-family='"Liberation Sans", "IPAGothic", sans-serif' font-size="26.5" dx="1.9" fill="#2a2a2a" style="stroke-width:0.1px">℃</tspan></text>
</svg>
</body>
</html>
